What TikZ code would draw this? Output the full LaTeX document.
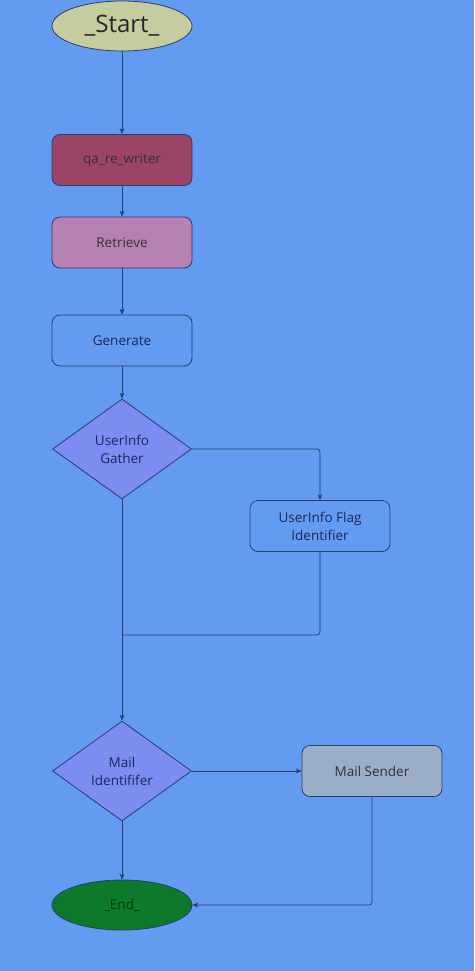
\documentclass[tikz,border=0pt]{standalone}
\usepackage{fontspec}
\setmainfont{Open Sans}
\usetikzlibrary{shapes.geometric, arrows.meta}

\definecolor{bgblue}{RGB}{99,155,240}
\definecolor{edgeblue}{RGB}{40,62,110}
\definecolor{txtblue}{RGB}{28,40,90}
\definecolor{startfill}{RGB}{197,204,160}
\definecolor{rewfill}{RGB}{156,68,102}
\definecolor{retfill}{RGB}{182,128,176}
\definecolor{decfill}{RGB}{124,140,240}
\definecolor{sendfill}{RGB}{156,173,200}
\definecolor{endfill}{RGB}{12,122,42}

\begin{document}
\begin{tikzpicture}[x=1pt, y=-1pt,
  font=\fontsize{13.5}{18}\selectfont,
  term/.style={draw=edgeblue, line width=0.8pt, ellipse, minimum width=140pt,
               minimum height=50pt, inner sep=0pt},
  proc/.style={draw=edgeblue, line width=0.8pt, rounded corners=8pt, minimum width=140pt,
               minimum height=51pt, align=center, text=txtblue},
  dec/.style={draw=edgeblue, line width=0.8pt, diamond, fill=decfill, minimum width=139pt,
              minimum height=100pt, inner sep=0pt, align=center, text=txtblue},
  arr/.style={-{Stealth[length=6pt, width=5pt]}, edgeblue, line width=0.7pt},
  lin/.style={edgeblue, line width=0.7pt}
]
  \useasboundingbox[fill=bgblue] (0,0) rectangle (474,971);
  \node[term, fill=startfill, font=\fontsize{24}{28}\selectfont, text=black!85] (start) at (122,26) {\_Start\_};
  \node[proc, fill=rewfill, text=black!80] (rewriter) at (122,160) {qa\_re\_writer};
  \node[proc, fill=retfill, text=black!80] (retrieve) at (122,242.5) {Retrieve};
  \node[proc] (generate) at (122,340.5) {Generate};
  \node[dec] (gather) at (122,449) {UserInfo\\Gather};
  \node[proc] (flag) at (320,526) {UserInfo Flag\\Identifier};
  \coordinate (join) at (122,635);
  \node[dec] (mailid) at (122,771) {Mail\\Identififer};
  \node[proc, fill=sendfill, text=black!80] (sender) at (372,771) {Mail Sender};
  \node[term, fill=endfill, text=black!75!green] (end) at (122,905) {\_End\_};

  \draw[arr] (start) -- (rewriter);
  \draw[arr] (rewriter) -- (retrieve);
  \draw[arr] (retrieve) -- (generate);
  \draw[arr] (generate) -- (gather);
  \draw[arr, rounded corners=3pt] (gather.east) -| (flag.north);
  \draw[lin, rounded corners=3pt] (flag.south) |- (join);
  \draw[arr] (gather.south) -- (mailid.north);
  \draw[arr] (mailid.east) -- (sender.west);
  \draw[arr] (mailid.south) -- (end.north);
  \draw[arr, rounded corners=3pt] (sender.south) |- (end.east);
\end{tikzpicture}
\end{document}
